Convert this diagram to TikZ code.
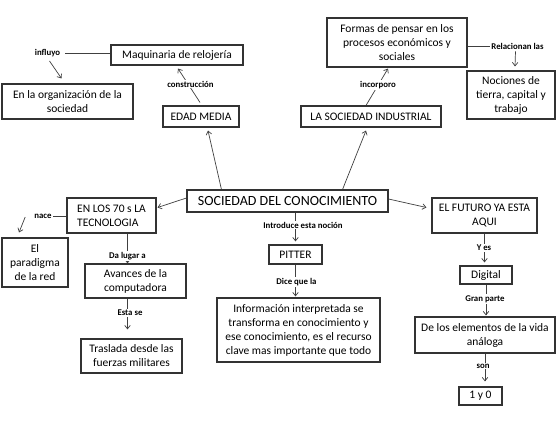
\documentclass[tikz,border=0pt]{standalone}
\usepackage{fontspec}
\setmainfont{Carlito}
\usetikzlibrary{arrows.meta,calc}
\pgfdeclarelayer{background}
\pgfsetlayers{background,main}
\begin{document}
\begin{tikzpicture}[x=1pt,y=-1pt,
  box/.style={draw=black!80, line width=1.1pt, align=center, inner sep=0pt, font=\fontsize{11.5}{14}\selectfont},
  lbl/.style={font=\bfseries\fontsize{8.8}{10}\selectfont, fill=white, inner sep=1pt},
  ln/.style={draw=black!75, line width=0.7pt},
  arr/.style={ln, -{Straight Barb[length=3.5pt,width=5.5pt]}}]
\useasboundingbox (0,0) rectangle (560,433);
% boxes
\node[box, minimum width=132pt, minimum height=20pt] (maq) at (177,55) {Maquinaria de relojería};
\node[box, minimum width=131pt, minimum height=35pt] (org) at (67.5,101.5) {En la organización de la\\sociedad};
\node[box, minimum width=76pt, minimum height=21pt] (edad) at (201,116.5) {EDAD MEDIA};
\node[box, minimum width=140pt, minimum height=49pt] (formas) at (397,42.5) {Formas de pensar en los\\procesos económicos y\\sociales};
\node[box, minimum width=88pt, minimum height=48pt] (noc) at (511,95) {Nociones de\\tierra, capital y\\trabajo};
\node[box, minimum width=140pt, minimum height=21pt] (ind) at (371,116.5) {LA SOCIEDAD INDUSTRIAL};
\node[box, minimum width=201pt, minimum height=22pt, font=\fontsize{14}{16}\selectfont] (soc) at (287.5,201) {SOCIEDAD DEL CONOCIMIENTO};
\node[box, minimum width=89pt, minimum height=35pt, align=left] (tec) at (111.5,215.5) {EN LOS 70 s LA\\TECNOLOGIA};
\node[box, minimum width=66pt, minimum height=49pt] (par) at (35,262.5) {El\\paradigma\\de la red};
\node[box, minimum width=101pt, minimum height=34pt] (ava) at (135.5,281) {Avances de la\\computadora};
\node[box, minimum width=101pt, minimum height=34pt] (tra) at (131.5,356) {Traslada desde las\\fuerzas militares};
\node[box, minimum width=53pt, minimum height=19pt] (pit) at (295.5,254.5) {PITTER};
\node[box, minimum width=163pt, minimum height=64pt] (inf) at (298.5,330) {Información interpretada se\\transforma en conocimiento y\\ese conocimiento, es el recurso\\clave mas importante que todo};
\node[box, minimum width=105pt, minimum height=35pt] (fut) at (484.5,215.5) {EL FUTURO YA ESTA\\AQUI};
\node[box, minimum width=52pt, minimum height=18pt] (dig) at (486,275) {Digital};
\node[box, minimum width=140pt, minimum height=36pt] (ele) at (485,335) {De los elementos de la vida\\análoga};
\node[box, minimum width=43pt, minimum height=18pt] (uno) at (480.5,396) {1 y 0};
% labels
\node[lbl] (influyo) at (47.5,53) {influyo};
\node[lbl] (cons) at (190.5,84) {construcción};
\node[lbl] (inc) at (378,85) {incorporo};
\node[lbl] (rel) at (517.5,46) {Relacionan las};
\node[lbl] (nace) at (43,216) {nace};
\node[lbl] (dl) at (127.5,256) {Da lugar a};
\node[lbl] (es) at (130,313) {Esta se};
\node[lbl] (intro) at (303,225) {Introduce esta noción};
\node[lbl] (dice) at (296.5,282) {Dice que la};
\node[lbl] (yes) at (484,248) {Y es};
\node[lbl] (gran) at (485,299) {Gran parte};
\node[lbl] (son) at (483,366) {son};
% connectors
\begin{pgfonlayer}{background}
\fill[white] (0,0) rectangle (560,433);
\draw[ln] ($(influyo.east)+(4,0)$) -- (maq.west |- influyo.east);
\draw[arr] ($(influyo.south)+(2,3)$) -- ($(org.north)+(-6,-5)$);
\draw[arr] ($(edad.north)+(-1,-3)$) -- ($(maq.south)+(1,3)$);
\draw[arr] ($(soc.north west)+(35,0)$) -- ($(edad.south)+(7,3)$);
\draw[arr] ($(soc.north east)+(-46,0)$) -- ($(ind.south)+(-5,3)$);
\draw[arr] ($(ind.north)+(-5,0)$) -- ($(formas.south)+(-9,1)$);
\draw[ln] (formas.east |- rel.west) -- (rel.west);
\draw[arr] ($(rel.south)+(-2,1)$) -- ($(noc.north)+(4,-4)$);
\draw[arr] ($(soc.west)+(0,-3)$) -- ($(tec.east)+(1,-8)$);
\draw[arr] ($(soc.east)+(0,-2)$) -- ($(fut.west)+(-5,-8)$);
\draw[ln] (tec.west |- nace.east) -- (nace.east);
\draw[arr] ($(nace.west)+(-8,1)$) -- ($(par.north)+(-16,-5)$);
\draw[arr] (tec.south -| dl) -- (ava.north -| dl);
\draw[arr, shorten >=9pt] (ava.south -| dl) -- (tra.north -| dl);
\draw[arr, shorten >=3pt] (soc.south -| pit) -- (pit.north);
\draw[arr, shorten >=1pt] (pit.south) -- (inf.north -| pit);
\draw[arr, shorten >=3pt] (fut.south) -- (fut.south |- dig.north);
\draw[arr, shorten >=1pt] (dig.south) -- (dig.south |- ele.north);
\draw[arr, shorten >=5pt] (ele.south) -- (ele.south |- uno.north);
\end{pgfonlayer}
\end{tikzpicture}
\end{document}
